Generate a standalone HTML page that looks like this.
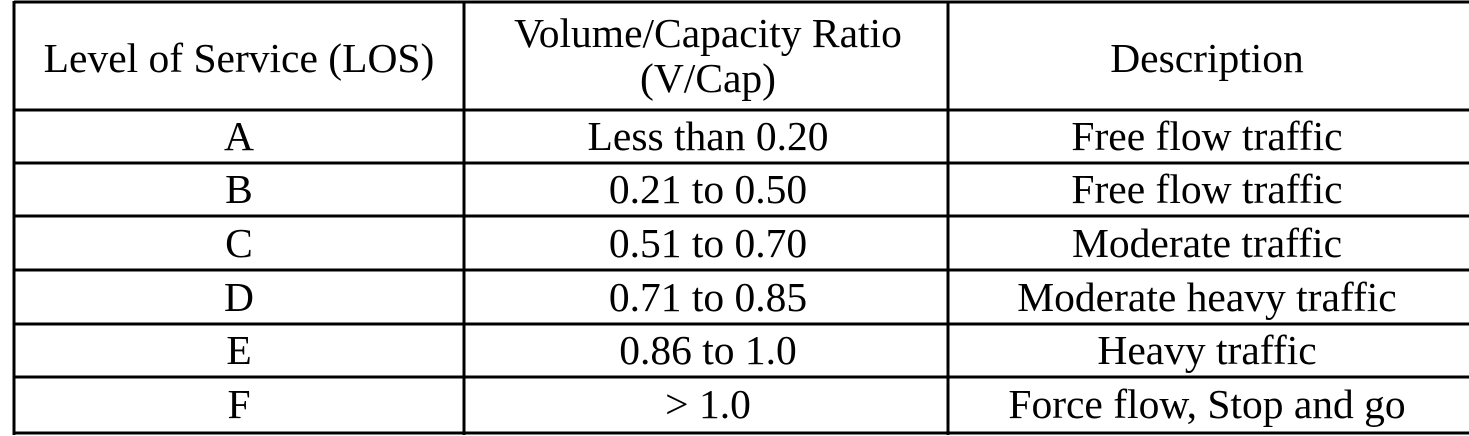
<!DOCTYPE html>
<html><head><meta charset="utf-8"><style>
html,body{margin:0;padding:0;background:#fff;width:1469px;height:436px;overflow:hidden}
svg{display:block}
text{font-family:"Liberation Serif",serif;font-size:41.5px;fill:#000;text-anchor:middle}
</style></head><body>
<svg width="1469" height="436">
<g stroke="#000" stroke-width="3">
<line x1="14" y1="2" x2="1469" y2="2"/>
<line x1="14" y1="433" x2="1469" y2="433"/>
<line x1="14" y1="1" x2="14" y2="435"/>
<line x1="464" y1="1" x2="464" y2="435"/>
<line x1="948" y1="1" x2="948" y2="435"/>
<line x1="14" y1="110" x2="1469" y2="110"/>
<line x1="14" y1="163" x2="1469" y2="163"/>
<line x1="14" y1="216" x2="1469" y2="216"/>
<line x1="14" y1="270" x2="1469" y2="270"/>
<line x1="14" y1="324" x2="1469" y2="324"/>
<line x1="14" y1="377" x2="1469" y2="377"/>
</g>
<g>
<text x="239" y="72">Level of Service (LOS)</text>
<text x="708" y="47">Volume/Capacity Ratio</text>
<text x="708" y="92">(V/Cap)</text>
<text x="1207" y="72">Description</text>
</g>
<g>
<text x="239" y="150">A</text><text x="708" y="150">Less than 0.20</text><text x="1207" y="150">Free flow traffic</text></g>
<g>
<text x="239" y="203">B</text><text x="708" y="203">0.21 to 0.50</text><text x="1207" y="203">Free flow traffic</text></g>
<g>
<text x="239" y="257">C</text><text x="708" y="257">0.51 to 0.70</text><text x="1207" y="257">Moderate traffic</text></g>
<g>
<text x="239" y="311">D</text><text x="708" y="311">0.71 to 0.85</text><text x="1207" y="311">Moderate heavy traffic</text></g>
<g>
<text x="239" y="364">E</text><text x="708" y="364">0.86 to 1.0</text><text x="1207" y="364">Heavy traffic</text></g>
<g>
<text x="239" y="418">F</text><text x="708" y="418">&gt; 1.0</text><text x="1207" y="418">Force flow, Stop and go</text></g>
</svg>
</body></html>
